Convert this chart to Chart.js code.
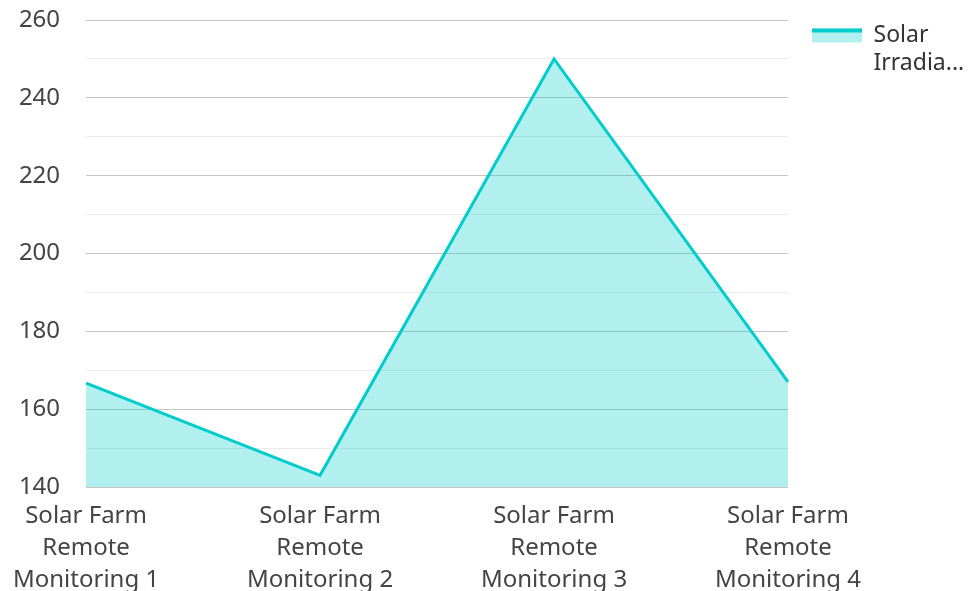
<!DOCTYPE html>
<html>
<head>
<meta charset="utf-8">
<script src="https://cdn.jsdelivr.net/npm/chart.js@4.4.0/dist/chart.umd.min.js"></script>
<style>
	html, body { margin: 0; padding: 0; background: #fff; overflow: hidden; }
	#wrap { width: 971px; height: 600px; }
</style>
</head>
<body>
<div id="wrap"><canvas id="myChart"></canvas></div>
<script>
	// chart data
	const categories = [
		['Solar Farm', 'Remote', 'Monitoring 1'],
		['Solar Farm', 'Remote', 'Monitoring 2'],
		['Solar Farm', 'Remote', 'Monitoring 3'],
		['Solar Farm', 'Remote', 'Monitoring 4'],
	];
	const irradiance = [166.7, 143, 250, 167];
	const seriesLabel = ['Solar', 'Irradia...'];
	const yMin = 140;
	const yMax = 260;

	const lineColor = 'rgb(0, 204, 204)';
	const fillColor = 'rgba(0, 204, 204, 0.3)';

	// draws the thick top stripe on the legend swatch
	const legendStripe = {
		id: 'legendStripe',
		afterDraw(chart) {
			const legend = chart.legend;
			if (!legend || !legend.legendHitBoxes) return;
			const opts = legend.options.labels;
			const ctx = chart.ctx;
			legend.legendHitBoxes.forEach(function(box) {
				const top = box.top + Math.max((opts.font.size - opts.boxHeight) / 2, 0);
				ctx.save();
				ctx.fillStyle = lineColor;
				ctx.fillRect(box.left, top, opts.boxWidth, 4);
				ctx.restore();
			});
		}
	};

	const ctx = document.getElementById('myChart');

	const myChart = new Chart(ctx, {
		type: 'line',
		data: {
			labels: categories,
			datasets: [{
				label: seriesLabel,
				data: irradiance,
				borderColor: lineColor,
				backgroundColor: fillColor,
				borderWidth: 3,
				fill: 'start',
				tension: 0,
				pointRadius: 0,
				pointHoverRadius: 0
			}]
		},
		options: {
			responsive: true,
			maintainAspectRatio: false,
			animation: false,
			layout: {
				padding: 0
			},
			plugins: {
				legend: {
					position: 'right',
					align: 'start',
					maxWidth: 183,
					labels: {
						boxWidth: 50,
						boxHeight: 14,
						padding: 24,
						color: '#333',
						font: { family: 'Noto Sans', size: 23 },
						generateLabels(chart) {
							const ds = chart.data.datasets[0];
							return [{
								text: ds.label,
								fillStyle: fillColor,
								strokeStyle: lineColor,
								lineWidth: 0,
								fontColor: '#333',
								datasetIndex: 0
							}];
						}
					}
				},
				tooltip: { enabled: false }
			},
			scales: {
				x: {
					offset: false,
					border: { display: false },
					grid: { display: false, drawTicks: false },
					ticks: {
						color: '#444',
						padding: 13,
						maxRotation: 0,
						autoSkip: false,
						font: { family: 'Noto Sans', size: 24, lineHeight: 1.333 }
					},
					afterFit(scale) {
						scale.height = 113;
					}
				},
				y: {
					min: yMin,
					max: yMax,
					border: { display: false },
					grid: {
						drawTicks: false,
						color: function(c) {
							return c.tick && c.tick.value % 20 === 0 ? '#c6c6c6' : '#ebebeb';
						}
					},
					ticks: {
						stepSize: 10,
						autoSkip: false,
						color: '#444',
						padding: 26,
						font: { family: 'Noto Sans', size: 24, lineHeight: 1.333 },
						callback: function(v) {
							return v % 20 === 0 ? v : '';
						}
					},
					afterFit(scale) {
						scale.width = 85;
						scale.paddingTop = 20;
						scale.paddingBottom = 0;
					}
				}
			}
		},
		plugins: [legendStripe]
	});
</script>
</body>
</html>
